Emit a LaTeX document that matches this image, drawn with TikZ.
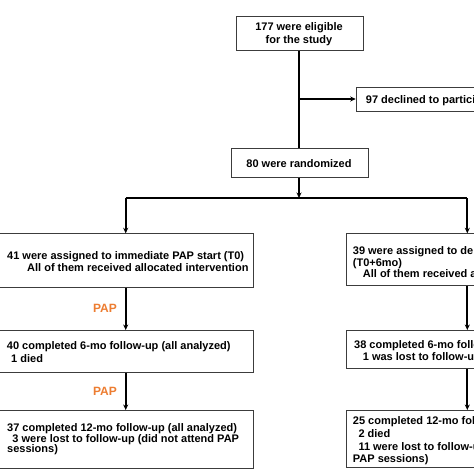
\documentclass[tikz,border=0pt]{standalone}
\usepackage{fontspec}
\setmainfont{Liberation Sans}
\usetikzlibrary{arrows.meta}
\definecolor{paporange}{RGB}{237,125,49}
\definecolor{boxgray}{RGB}{60,60,60}
\tikzset{
  box/.style={draw=boxgray, line width=1pt, fill=white, anchor=north west, inner sep=0pt},
  txt/.style={inner sep=0pt, anchor=base west, font=\bfseries\fontsize{11}{12}\selectfont},
  ctxt/.style={inner sep=0pt, align=center, font=\bfseries\fontsize{11}{13.4}\selectfont},
  conn/.style={line width=1.7pt, black},
  arr/.style={conn, -{Stealth[length=5.5pt,width=5pt]}},
  paplbl/.style={inner sep=0pt, text=paporange, font=\bfseries\fontsize{12}{13}\selectfont}
}
\begin{document}
\begin{tikzpicture}[x=1pt,y=-1pt]
\useasboundingbox (0,0) rectangle (474,474);
\fill[white] (0,0) rectangle (474,474);
\clip (0,0) rectangle (474,474);

% boxes
\node[box, minimum width=127.3pt, minimum height=34pt] (top) at (235.7,16) {};
\node[box, minimum width=200pt, minimum height=23.7pt] (decl) at (355.7,87) {};
\node[box, minimum width=137.6pt, minimum height=29pt] (rand) at (230.7,147.7) {};
\node[box, minimum width=263.3pt, minimum height=53.4pt] (L1) at (-10,233.3) {};
\node[box, minimum width=263.3pt, minimum height=41.7pt] (L2) at (-10,330) {};
\node[box, minimum width=263.3pt, minimum height=58.3pt] (L3) at (-10,410) {};
\node[box, minimum width=250pt, minimum height=51.7pt] (R1) at (345.5,233.3) {};
\node[box, minimum width=250pt, minimum height=38.3pt] (R2) at (345.5,330) {};
\node[box, minimum width=250pt, minimum height=56.7pt] (R3) at (345.5,410) {};

% texts
\node[ctxt] (ttop) at (299,34) {177 were eligible\\for the study};
\node[txt] (tdecl) at (365.7,103) {97 declined to participate};
\node[ctxt, anchor=base] (trand) at (299,167.3) {80 were randomized};

\node[txt] (tl1a) at (7,259) {41 were assigned to immediate PAP start (T0)};
\node[txt] (tl1b) at (27,271.3) {All of them received allocated intervention};
\node[txt] (tl2a) at (6.7,349.7) {40 completed 6-mo follow-up (all analyzed)};
\node[txt] (tl2b) at (11,362.3) {1 died};
\node[txt] (tl3a) at (7,431.2) {37 completed 12-mo follow-up (all analyzed)};
\node[txt] (tl3b) at (12.3,442.2) {3 were lost to follow-up (did not attend PAP};
\node[txt] (tl3c) at (7,452.7) {sessions)};

\node[txt] (tr1a) at (352.7,254.7) {39 were assigned to delayed PAP start};
\node[txt] (tr1b) at (352.7,266.3) {(T0+6mo)};
\node[txt] (tr1c) at (362.7,277.3) {All of them received allocated intervention};
\node[txt] (tr2a) at (354,348.3) {38 completed 6-mo follow-up (all analyzed)};
\node[txt] (tr2b) at (362.7,360.7) {1 was lost to follow-up};
\node[txt] (tr3a) at (352.7,424) {25 completed 12-mo follow-up (all analyzed)};
\node[txt] (tr3b) at (358.3,437.3) {2 died};
\node[txt] (tr3c) at (358.3,450) {11 were lost to follow-up (did not attend};
\node[txt] (tr3d) at (352.7,462.3) {PAP sessions)};

\node[paplbl] (pap1) at (105,308) {PAP};
\node[paplbl] (pap2) at (105,391.7) {PAP};

% connectors
\coordinate (cx) at (299,0);
\coordinate (br) at (299,99);
\coordinate (split) at (299,198);
\coordinate (lsplit) at (125.7,198);
\coordinate (rsplit) at (467.3,198);

\draw[conn] (top.south -| cx) -- (rand.north -| cx);
\draw[arr] (br) -- (decl.west |- br);
\draw[arr] (rand.south -| cx) -- (split);
\draw[conn] (lsplit) -- (rsplit);
\draw[arr] (lsplit) -- (lsplit |- L1.north);
\draw[arr] (rsplit) -- (rsplit |- R1.north);
\draw[arr] (L1.south -| lsplit) -- (L2.north -| lsplit);
\draw[arr] (L2.south -| lsplit) -- (L3.north -| lsplit);
\draw[arr] (R1.south -| rsplit) -- (R2.north -| rsplit);
\draw[arr] (R2.south -| rsplit) -- (R3.north -| rsplit);
\end{tikzpicture}
\end{document}
